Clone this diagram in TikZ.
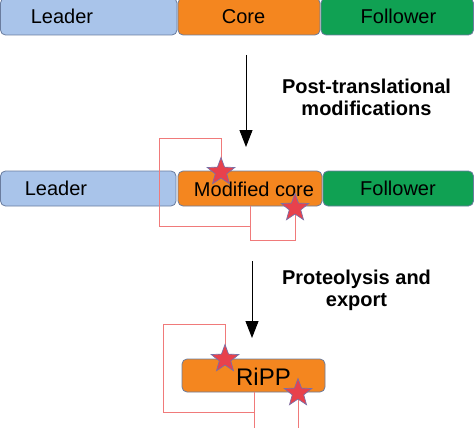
\documentclass[tikz,border=0pt]{standalone}
\usepackage{fontspec}
\setmainfont{Liberation Sans}
\usetikzlibrary{shapes.geometric,arrows.meta}
\definecolor{leadc}{HTML}{A9C4EA}
\definecolor{corec}{HTML}{F4861F}
\definecolor{follc}{HTML}{10A153}
\definecolor{edgec}{HTML}{6A7C9E}
\definecolor{linkc}{HTML}{F07A7A}
\definecolor{starc}{HTML}{E8414C}
\definecolor{stare}{HTML}{7B6FA6}
\begin{document}
\begin{tikzpicture}[x=1pt,y=-1pt,
  seg/.style={draw=edgec, line width=0.8pt, rounded corners=5pt, inner sep=0pt},
  lbl/.style={font=\fontsize{20}{22}\selectfont, inner sep=0pt},
  blbl/.style={font=\bfseries\fontsize{20}{22}\selectfont, inner sep=0pt, align=center},
  arr/.style={line width=1pt, -{Triangle[length=17pt,width=13pt]}},
  link/.style={draw=linkc, line width=0.9pt},
  starn/.style={star, star points=5, star point ratio=2.4, minimum size=29pt, inner sep=0pt, fill=starc, draw=stare, line width=0.7pt}]
\useasboundingbox (0,0) rectangle (474,428);
\clip (0,0) rectangle (474,428);

% top row
\node[seg, fill=leadc, minimum width=176.5pt, minimum height=37pt] (lead1) at (88.75,16.5) {};
\node[seg, fill=corec, minimum width=142pt, minimum height=37pt] (core1) at (249,16.5) {};
\node[seg, fill=follc, minimum width=152.5pt, minimum height=37pt] (foll1) at (397.25,16.5) {};
\node[lbl] (lead1t) at (62,16.5) {Leader};
\node[lbl] (core1t) at (243.5,16.5) {Core};
\node[lbl] (foll1t) at (398.5,16.5) {Follower};

% arrow 1
\coordinate (a1s) at (246,55);
\coordinate (a1e) at (246,147);
\draw[arr] (a1s) -- (a1e);
\node[blbl] (ptm) at (366.5,97) {Post-translational\\modifications};

% middle row
\node[seg, fill=leadc, minimum width=175.5pt, minimum height=35pt] (lead2) at (88.25,188.5) {};
\node[seg, fill=corec, minimum width=144pt, minimum height=35pt] (core2) at (250,188.5) {};
\node[seg, fill=follc, minimum width=150.5pt, minimum height=35pt] (foll2) at (398.25,188.5) {};
\node[lbl] (lead2t) at (56,188.5) {Leader};
\node[lbl] (core2t) at (254,189) {Modified core};
\node[lbl] (foll2t) at (398,188.5) {Follower};

\coordinate (c1) at (221,172);
\coordinate (c2) at (295,208);
\coordinate (m1) at (221,138);
\coordinate (m2) at (159,138);
\coordinate (m3) at (159,226);
\coordinate (m4) at (250,226);
\coordinate (m5) at (250,206);
\coordinate (m6) at (250,240);
\coordinate (m7) at (295,240);
\draw[link] (c1) -- (m1) -- (m2) -- (m3) -- (m4);
\draw[link] (m5) -- (m6) -- (m7) -- (c2);
\node[starn] (s1) at (c1) {};
\node[starn] (s2) at (c2) {};

% arrow 2
\coordinate (a2s) at (252,261);
\coordinate (a2e) at (252,338);
\draw[arr] (a2s) -- (a2e);
\node[blbl] (pe) at (356.5,290) {Proteolysis and\\export};

% RiPP
\node[seg, fill=corec, minimum width=143pt, minimum height=33pt] (ripp) at (253.5,375.5) {};
\node[lbl, font=\fontsize{24}{26}\selectfont] (rippt) at (263.5,377) {RiPP};
\coordinate (d1) at (225,359);
\coordinate (d2) at (298,393);
\coordinate (n1) at (225,324);
\coordinate (n2) at (163,324);
\coordinate (n3) at (163,412);
\coordinate (n4) at (254,412);
\coordinate (n5) at (254,392);
\coordinate (n6) at (254,432);
\coordinate (n7) at (298,432);
\draw[link] (d1) -- (n1) -- (n2) -- (n3) -- (n4);
\draw[link] (n5) -- (n6);
\draw[link] (d2) -- (n7);
\node[starn] (r1) at (d1) {};
\node[starn] (r2) at (d2) {};
\end{tikzpicture}
\end{document}
